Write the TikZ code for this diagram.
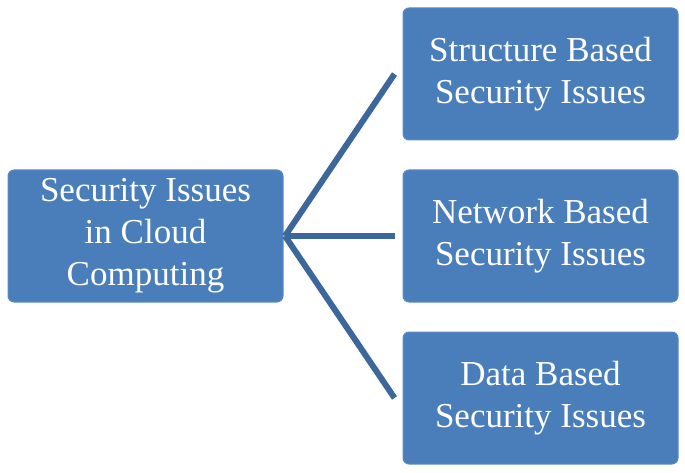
\documentclass[tikz,border=0pt]{standalone}
\usepackage{fontspec}
\setmainfont{Liberation Serif}
\definecolor{boxfill}{HTML}{4A7EBB}
\definecolor{boxline}{HTML}{5B8BC6}
\definecolor{conn}{HTML}{3C679A}
\begin{document}
\begin{tikzpicture}[x=1pt,y=-1pt,
  box/.style={draw=boxline,line width=1pt,fill=boxfill,rounded corners=6pt,minimum width=275pt,minimum height=132pt,text=white,align=center,font=\fontsize{35}{42}\selectfont,inner sep=0pt},
  link/.style={conn,line width=6pt}]
\useasboundingbox (0,0) rectangle (685,473);
\node[box] (root) at (145.5,236) {Security Issues\\in Cloud\\Computing};
\node[box] (s) at (540.5,74) {Structure Based\\Security Issues};
\node[box] (n) at (540.5,236) {Network Based\\Security Issues};
\node[box] (d) at (540.5,398) {Data Based\\Security Issues};
\coordinate (hub) at (285,236);
\draw[link] (hub) -- ([xshift=-8pt]s.west);
\draw[link] (hub) -- ([xshift=-8pt]n.west);
\draw[link] (hub) -- ([xshift=-8pt]d.west);
\end{tikzpicture}
\end{document}
